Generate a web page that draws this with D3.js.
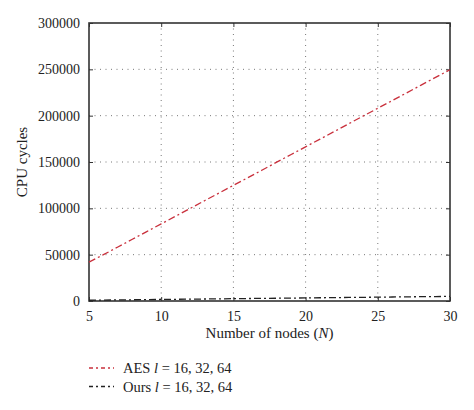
<!DOCTYPE html>
<html><head><meta charset="utf-8">
<script src="https://cdn.jsdelivr.net/npm/d3@7"></script>
<style>body{margin:0;background:#fff}svg{display:block}text{font-family:"Liberation Serif","DejaVu Serif",serif;fill:#222}</style>
</head><body><svg id="c" width="474" height="410"></svg>
<script>
const nodes = [5,6,7,8,9,10,11,12,13,14,15,16,17,18,19,20,21,22,23,24,25,26,27,28,29,30];
const aes = [42000,50000,58300,66600,74900,83200,91500,99800,108200,116500,124800,133100,141400,149800,158100,166400,174700,183000,191400,199700,208000,216300,224600,233000,241300,249600];
const ours = [830,1000,1160,1330,1490,1660,1830,1990,2160,2320,2490,2660,2820,2990,3150,3320,3490,3650,3820,3980,4150,4320,4480,4650,4810,4980];
const xTicks = [5,10,15,20,25,30];
const yTicks = [0,50000,100000,150000,200000,250000,300000];
const seriesNames = ["AES", "Ours"];
const seriesColors = ["#c9303c", "#222222"];

const svg = d3.select("#c");
const L = 89, R = 450, T = 23, B = 301;
const x = d3.scaleLinear().domain([5,30]).range([L,R]);
const y = d3.scaleLinear().domain([0,300000]).range([B,T]);

// grid
const g = svg.append("g");
g.selectAll("line.vx").data(xTicks.slice(1,-1)).join("line")
  .attr("x1",d=>x(d)).attr("x2",d=>x(d)).attr("y1",T).attr("y2",B)
  .attr("stroke","#777").attr("stroke-width",1).attr("stroke-dasharray","1,4.5");
g.selectAll("line.hy").data(yTicks.slice(1,-1)).join("line")
  .attr("y1",d=>y(d)).attr("y2",d=>y(d)).attr("x1",L).attr("x2",R)
  .attr("stroke","#777").attr("stroke-width",1).attr("stroke-dasharray","1,4.5");

// axes
const xa = svg.append("g").attr("transform",`translate(0,${B})`)
  .call(d3.axisBottom(x).tickValues(xTicks).tickSize(-4).tickPadding(10).tickFormat(d3.format("d")));
const xt = svg.append("g").attr("transform",`translate(0,${T})`)
  .call(d3.axisTop(x).tickValues(xTicks).tickSize(-4).tickFormat(""));
const ya = svg.append("g").attr("transform",`translate(${L},0)`)
  .call(d3.axisLeft(y).tickValues(yTicks).tickSize(-4).tickPadding(9).tickFormat(d3.format("d")));
const yr = svg.append("g").attr("transform",`translate(${R},0)`)
  .call(d3.axisRight(y).tickValues(yTicks).tickSize(-4).tickFormat(""));
[xa,xt,ya,yr].forEach(a=>{
  a.selectAll(".domain").remove();
  a.selectAll(".tick line").attr("stroke","#333");
  a.selectAll("text").attr("font-size",14).attr("fill","#222").attr("font-family","Liberation Serif, serif");
});
svg.append("rect").attr("x",L).attr("y",T).attr("width",R-L).attr("height",B-T)
  .attr("fill","none").attr("stroke","#333").attr("stroke-width",1.6);

// lines
const line = d3.line().x((d,i)=>x(nodes[i])).y(d=>y(d));
[aes, ours].forEach((s,k)=>{
  svg.append("path").datum(s).attr("d",line).attr("fill","none")
    .attr("stroke",seriesColors[k]).attr("stroke-width",1.3)
    .attr("stroke-dasharray","7,3,2,3");
});

// labels
svg.append("text").attr("x",(L+R)/2).attr("y",338).attr("text-anchor","middle").attr("font-size",15)
  .html('Number of nodes (<tspan font-style="italic">N</tspan>)');
svg.append("text").attr("transform",`translate(27,${(T+B)/2}) rotate(-90)`).attr("text-anchor","middle")
  .attr("font-size",15).text("CPU cycles");

// legend
seriesNames.forEach((n,k)=>{
  const ly = 368 + k*18.5;
  svg.append("line").attr("x1",89).attr("x2",114).attr("y1",ly).attr("y2",ly)
    .attr("stroke",seriesColors[k]).attr("stroke-width",1.3).attr("stroke-dasharray","4,3,2,3");
  svg.append("text").attr("x",123).attr("y",ly+5).attr("font-size",14.5)
    .html(`${n} <tspan font-style="italic">l</tspan> = 16, 32, 64`);
});
</script></body></html>
